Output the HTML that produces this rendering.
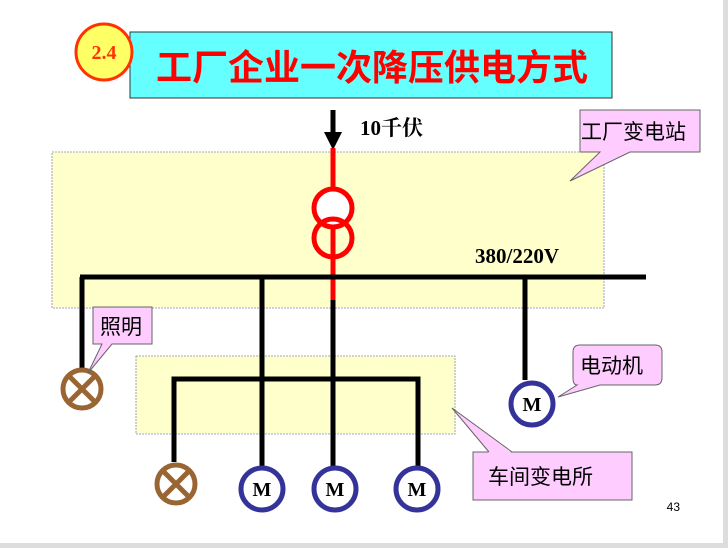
<!DOCTYPE html>
<html><head><meta charset="utf-8"><style>
html,body{margin:0;padding:0;background:#fff;}
svg{display:block}
</style></head><body>
<svg width="728" height="548" viewBox="0 0 728 548" xmlns="http://www.w3.org/2000/svg">
<rect x="0" y="0" width="728" height="548" fill="#fff"/>
<rect x="723" y="0" width="5" height="548" fill="#ddd"/>
<rect x="0" y="543" width="728" height="5" fill="#ddd"/>
<!-- title -->
<rect x="130" y="32" width="482" height="66" fill="#66ffff" stroke="#333" stroke-width="1"/>
<text x="372" y="80" font-family="'Liberation Sans','Noto Sans CJK SC',sans-serif" font-weight="bold" font-size="36" fill="#ff0000" text-anchor="middle">工厂企业一次降压供电方式</text>
<circle cx="104" cy="52" r="28" fill="#ffff66" stroke="#ff3300" stroke-width="3"/>
<text x="104" y="59" font-family="'Liberation Serif',serif" font-weight="bold" font-size="20" fill="#ff3300" text-anchor="middle">2.4</text>
<!-- yellow boxes -->
<rect x="52" y="152" width="552" height="156" fill="#ffffcc" stroke="#8888bb" stroke-width="0.8" stroke-dasharray="2,1"/>
<rect x="136" y="356" width="319" height="78" fill="#ffffcc" stroke="#8888bb" stroke-width="0.8" stroke-dasharray="2,1"/>
<!-- arrow -->
<line x1="333" y1="110" x2="333" y2="135" stroke="#000" stroke-width="5"/>
<polygon points="324,132 342,132 333,150" fill="#000"/>
<text x="360" y="135" font-family="'Liberation Serif','Noto Serif CJK SC',serif" font-weight="bold" font-size="21" fill="#000">10千伏</text>
<!-- red line & transformer -->
<line x1="333" y1="148" x2="333" y2="300" stroke="#ff0000" stroke-width="5"/>
<circle cx="333" cy="208" r="19" fill="#fff" stroke="#ff0000" stroke-width="5"/>
<circle cx="333" cy="238" r="19" fill="none" stroke="#ff0000" stroke-width="5"/>
<text x="475" y="263" font-family="'Liberation Serif',serif" font-weight="bold" font-size="21" fill="#000">380/220V</text>
<!-- bus -->
<line x1="80" y1="277" x2="646" y2="277" stroke="#000" stroke-width="5"/>
<line x1="82" y1="277" x2="82" y2="372" stroke="#000" stroke-width="5"/>
<line x1="262" y1="277" x2="262" y2="467" stroke="#000" stroke-width="5"/>
<line x1="333" y1="300" x2="333" y2="467" stroke="#000" stroke-width="5"/>
<line x1="525" y1="277" x2="525" y2="380" stroke="#000" stroke-width="5"/>
<polyline points="174,462 174,379 418,379 418,467" fill="none" stroke="#000" stroke-width="5"/>
<!-- lamps -->
<g stroke="#996633" stroke-width="5" fill="#fff">
<circle cx="82" cy="389" r="19"/>
<line x1="69" y1="376" x2="95" y2="402"/><line x1="95" y1="376" x2="69" y2="402"/>
<circle cx="176" cy="484" r="19"/>
<line x1="163" y1="471" x2="189" y2="497"/><line x1="189" y1="471" x2="163" y2="497"/>
</g>
<!-- motors -->
<g stroke="#333399" stroke-width="5" fill="#fff">
<circle cx="532" cy="404" r="21"/>
<circle cx="262" cy="489" r="21"/>
<circle cx="335" cy="489" r="21"/>
<circle cx="417" cy="489" r="21"/>
</g>
<g font-family="'Liberation Serif',serif" font-weight="bold" font-size="20" fill="#000" text-anchor="middle">
<text x="532" y="411">M</text><text x="262" y="496">M</text><text x="335" y="496">M</text><text x="417" y="496">M</text>
</g>
<!-- callouts -->
<g fill="#ffccff" stroke="#666" stroke-width="1">
<path d="M580,110 H700 V152 H630 L570,181 L600,152 H580 Z"/>
<path d="M93,307 H152 V344 H112 L88,373 L102,344 H93 Z"/>
<path d="M580,345 H655 Q662,345 662,352 V378 Q662,385 655,385 H600 L558,397 L577,385 Q573,385 573,378 V352 Q573,345 580,345 Z"/>
<path d="M473,452 H632 V500 H473 Z"/>
</g>
<path d="M489,453 L452,408 L512,453 Z" fill="#ffccff" stroke="none"/>
<line x1="489" y1="452" x2="452" y2="408" stroke="#666"/><line x1="512" y1="452" x2="452" y2="408" stroke="#666"/>
<g font-family="'Liberation Sans','Noto Sans CJK SC',sans-serif" font-size="21" fill="#000">
<text x="581" y="139">工厂变电站</text>
<text x="100" y="334">照明</text>
<text x="580" y="373">电动机</text>
<text x="488" y="484">车间变电所</text>
</g>
<text x="680" y="511" font-family="'Liberation Sans',sans-serif" font-size="12" fill="#000" text-anchor="end">43</text>
</svg>
</body></html>
